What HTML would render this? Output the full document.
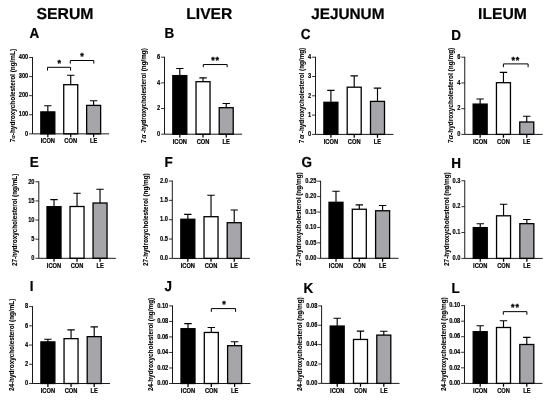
<!DOCTYPE html>
<html lang="en"><head><meta charset="utf-8"><title>Oxysterol levels</title>
<style>
html,body{margin:0;padding:0;background:#fff;}
body{width:550px;height:400px;overflow:hidden;}
svg{display:block;}
svg text{font-family:"Liberation Sans",Arial,sans-serif;font-weight:bold;}
svg text.s{stroke:#000;stroke-width:0.18px;}
svg text.t{stroke:#000;stroke-width:0.2px;text-rendering:geometricPrecision;}
</style></head><body>
<svg xmlns="http://www.w3.org/2000/svg" width="550" height="400" viewBox="0 0 550 400" font-weight="bold" fill="#000">
<rect width="550" height="400" fill="#fff"/>
<text class="t" x="65.0" y="18.6" text-anchor="middle" font-size="15.8">SERUM</text>
<text class="t" x="209.3" y="18.6" text-anchor="middle" font-size="15.7">LIVER</text>
<text class="t" x="347.8" y="18.6" text-anchor="middle" font-size="15.35">JEJUNUM</text>
<text class="t" x="502.5" y="18.6" text-anchor="middle" font-size="15.7">ILEUM</text>
<g id="pA">
<text class="t" transform="translate(29.50,38.10) scale(0.93,1)" font-size="14.5">A</text>
<text class="s" transform="translate(15.30,142.20) rotate(-90)" font-size="6.4" style="stroke-width:0.1px" textLength="93.25" lengthAdjust="spacingAndGlyphs">7<tspan font-size="5.6" font-style="italic" stroke-width="0.05">α</tspan>-hydroxycholesterol (ng/mL)</text>
<path d="M47.83 111.90V105.70M44.13 105.70H51.53" stroke="#000" stroke-width="1.15" fill="none"/>
<rect x="40.83" y="111.90" width="14.0" height="21.95" fill="#000" stroke="#000" stroke-width="1.3"/>
<path d="M47.83 133.85V137.25" stroke="#000" stroke-width="1.25"/>
<text class="s" transform="translate(47.83,143.45) scale(0.87,1)" text-anchor="middle" font-size="6.6" style="stroke-width:0.2px">ICON</text>
<path d="M70.73 84.70V75.25M67.03 75.25H74.43" stroke="#000" stroke-width="1.15" fill="none"/>
<rect x="63.73" y="84.70" width="14.0" height="49.15" fill="#fff" stroke="#000" stroke-width="1.3"/>
<path d="M70.73 133.85V137.25" stroke="#000" stroke-width="1.25"/>
<text class="s" transform="translate(70.73,143.45) scale(0.87,1)" text-anchor="middle" font-size="6.6" style="stroke-width:0.2px">CON</text>
<path d="M93.63 105.40V100.70M89.93 100.70H97.33" stroke="#000" stroke-width="1.15" fill="none"/>
<rect x="86.63" y="105.40" width="14.0" height="28.45" fill="#a6a6aa" stroke="#000" stroke-width="1.3"/>
<path d="M93.63 133.85V137.25" stroke="#000" stroke-width="1.25"/>
<text class="s" transform="translate(93.63,143.45) scale(0.87,1)" text-anchor="middle" font-size="6.6" style="stroke-width:0.2px">LE</text>
<path d="M32.50 57.10V133.85H109.10" stroke="#000" stroke-width="0.9" fill="none"/>
<path d="M29.10 133.85H32.50" stroke="#000" stroke-width="0.8"/>
<text class="s" transform="translate(28.20,135.55) scale(0.835,1)" text-anchor="end" font-size="6.8">0</text>
<path d="M29.10 114.76H32.50" stroke="#000" stroke-width="0.8"/>
<text class="s" transform="translate(28.20,116.46) scale(0.835,1)" text-anchor="end" font-size="6.8">100</text>
<path d="M29.10 95.67H32.50" stroke="#000" stroke-width="0.8"/>
<text class="s" transform="translate(28.20,97.38) scale(0.835,1)" text-anchor="end" font-size="6.8">200</text>
<path d="M29.10 76.59H32.50" stroke="#000" stroke-width="0.8"/>
<text class="s" transform="translate(28.20,78.29) scale(0.835,1)" text-anchor="end" font-size="6.8">300</text>
<path d="M29.10 57.50H32.50" stroke="#000" stroke-width="0.8"/>
<text class="s" transform="translate(28.20,59.20) scale(0.835,1)" text-anchor="end" font-size="6.8">400</text>
<path d="M47.5 70.6V67.3H70.6V70.6" stroke="#000" stroke-width="1" fill="none"/>
<text class="s" x="59.20" y="65.80" text-anchor="middle" font-size="9" letter-spacing="0" style="stroke-width:0.3px">*</text>
<path d="M70.3 63.6V60.5H93.8V63.6" stroke="#000" stroke-width="1" fill="none"/>
<text class="s" x="81.90" y="59.40" text-anchor="middle" font-size="9" letter-spacing="0" style="stroke-width:0.3px">*</text>
</g>
<g id="pB">
<text class="t" transform="translate(164.40,38.30) scale(0.93,1)" font-size="14.5">B</text>
<text class="s" transform="translate(145.80,143.00) rotate(-90)" font-size="6.4" style="stroke-width:0.1px" textLength="94.75" lengthAdjust="spacingAndGlyphs">7<tspan dx="0.8" font-size="7.2" font-style="italic" stroke-width="0.05">α</tspan><tspan dx="1.3">-hydroxycholesterol (ng/mg)</tspan></text>
<path d="M179.83 75.60V68.50M176.13 68.50H183.53" stroke="#000" stroke-width="1.15" fill="none"/>
<rect x="172.83" y="75.60" width="14.0" height="58.60" fill="#000" stroke="#000" stroke-width="1.3"/>
<path d="M179.83 134.20V137.60" stroke="#000" stroke-width="1.25"/>
<text class="s" transform="translate(179.83,143.80) scale(0.87,1)" text-anchor="middle" font-size="6.6" style="stroke-width:0.2px">ICON</text>
<path d="M203.03 81.70V77.80M199.33 77.80H206.73" stroke="#000" stroke-width="1.15" fill="none"/>
<rect x="196.03" y="81.70" width="14.0" height="52.50" fill="#fff" stroke="#000" stroke-width="1.3"/>
<path d="M203.03 134.20V137.60" stroke="#000" stroke-width="1.25"/>
<text class="s" transform="translate(203.03,143.80) scale(0.87,1)" text-anchor="middle" font-size="6.6" style="stroke-width:0.2px">CON</text>
<path d="M226.22 107.70V103.50M222.52 103.50H229.92" stroke="#000" stroke-width="1.15" fill="none"/>
<rect x="219.22" y="107.70" width="14.0" height="26.50" fill="#a6a6aa" stroke="#000" stroke-width="1.3"/>
<path d="M226.22 134.20V137.60" stroke="#000" stroke-width="1.25"/>
<text class="s" transform="translate(226.22,143.80) scale(0.87,1)" text-anchor="middle" font-size="6.6" style="stroke-width:0.2px">LE</text>
<path d="M164.50 56.80V134.20H242.10" stroke="#000" stroke-width="0.9" fill="none"/>
<path d="M161.10 134.20H164.50" stroke="#000" stroke-width="0.8"/>
<text class="s" transform="translate(160.20,135.90) scale(0.835,1)" text-anchor="end" font-size="6.8">0</text>
<path d="M161.10 108.53H164.50" stroke="#000" stroke-width="0.8"/>
<text class="s" transform="translate(160.20,110.23) scale(0.835,1)" text-anchor="end" font-size="6.8">2</text>
<path d="M161.10 82.87H164.50" stroke="#000" stroke-width="0.8"/>
<text class="s" transform="translate(160.20,84.57) scale(0.835,1)" text-anchor="end" font-size="6.8">4</text>
<path d="M161.10 57.20H164.50" stroke="#000" stroke-width="0.8"/>
<text class="s" transform="translate(160.20,58.90) scale(0.835,1)" text-anchor="end" font-size="6.8">6</text>
<path d="M203.3 67.2V64.55H227.2V67.2" stroke="#000" stroke-width="1" fill="none"/>
<text class="s" x="215.50" y="63.20" text-anchor="middle" font-size="9" letter-spacing="0.8" style="stroke-width:0.3px">**</text>
</g>
<g id="pC">
<text class="t" transform="translate(300.80,38.80) scale(0.93,1)" font-size="14.5">C</text>
<text class="s" transform="translate(304.30,143.20) rotate(-90)" font-size="6.4" style="stroke-width:0.1px" textLength="95.45" lengthAdjust="spacingAndGlyphs">7<tspan dx="0.8" font-size="7.2" font-style="italic" stroke-width="0.05">α</tspan><tspan dx="1.3">-hydroxycholesterol (ng/mg)</tspan></text>
<path d="M330.90 102.30V90.30M327.20 90.30H334.60" stroke="#000" stroke-width="1.15" fill="none"/>
<rect x="323.90" y="102.30" width="14.0" height="32.10" fill="#000" stroke="#000" stroke-width="1.3"/>
<path d="M330.90 134.40V137.80" stroke="#000" stroke-width="1.25"/>
<text class="s" transform="translate(330.90,144.00) scale(0.87,1)" text-anchor="middle" font-size="6.6" style="stroke-width:0.2px">ICON</text>
<path d="M354.20 87.20V75.80M350.50 75.80H357.90" stroke="#000" stroke-width="1.15" fill="none"/>
<rect x="347.20" y="87.20" width="14.0" height="47.20" fill="#fff" stroke="#000" stroke-width="1.3"/>
<path d="M354.20 134.40V137.80" stroke="#000" stroke-width="1.25"/>
<text class="s" transform="translate(354.20,144.00) scale(0.87,1)" text-anchor="middle" font-size="6.6" style="stroke-width:0.2px">CON</text>
<path d="M377.50 101.40V88.10M373.80 88.10H381.20" stroke="#000" stroke-width="1.15" fill="none"/>
<rect x="370.50" y="101.40" width="14.0" height="33.00" fill="#a6a6aa" stroke="#000" stroke-width="1.3"/>
<path d="M377.50 134.40V137.80" stroke="#000" stroke-width="1.25"/>
<text class="s" transform="translate(377.50,144.00) scale(0.87,1)" text-anchor="middle" font-size="6.6" style="stroke-width:0.2px">LE</text>
<path d="M315.50 56.80V134.40H393.45" stroke="#000" stroke-width="0.9" fill="none"/>
<path d="M312.10 134.40H315.50" stroke="#000" stroke-width="0.8"/>
<text class="s" transform="translate(311.20,136.10) scale(0.835,1)" text-anchor="end" font-size="6.8">0</text>
<path d="M312.10 115.10H315.50" stroke="#000" stroke-width="0.8"/>
<text class="s" transform="translate(311.20,116.80) scale(0.835,1)" text-anchor="end" font-size="6.8">1</text>
<path d="M312.10 95.80H315.50" stroke="#000" stroke-width="0.8"/>
<text class="s" transform="translate(311.20,97.50) scale(0.835,1)" text-anchor="end" font-size="6.8">2</text>
<path d="M312.10 76.50H315.50" stroke="#000" stroke-width="0.8"/>
<text class="s" transform="translate(311.20,78.20) scale(0.835,1)" text-anchor="end" font-size="6.8">3</text>
<path d="M312.10 57.20H315.50" stroke="#000" stroke-width="0.8"/>
<text class="s" transform="translate(311.20,58.90) scale(0.835,1)" text-anchor="end" font-size="6.8">4</text>
</g>
<g id="pD">
<text class="t" transform="translate(451.20,40.30) scale(0.93,1)" font-size="14.5">D</text>
<text class="s" transform="translate(453.30,143.00) rotate(-90)" font-size="6.4" style="stroke-width:0.1px" textLength="95.25" lengthAdjust="spacingAndGlyphs">7<tspan font-size="7.2" font-style="italic" stroke-width="0.05">α</tspan>-hydroxycholesterol (ng/mg)</text>
<path d="M480.15 104.10V99.00M476.45 99.00H483.85" stroke="#000" stroke-width="1.15" fill="none"/>
<rect x="473.15" y="104.10" width="14.0" height="30.30" fill="#000" stroke="#000" stroke-width="1.3"/>
<path d="M480.15 134.40V137.80" stroke="#000" stroke-width="1.25"/>
<text class="s" transform="translate(480.15,144.00) scale(0.87,1)" text-anchor="middle" font-size="6.6" style="stroke-width:0.2px">ICON</text>
<path d="M503.45 82.70V72.30M499.75 72.30H507.15" stroke="#000" stroke-width="1.15" fill="none"/>
<rect x="496.45" y="82.70" width="14.0" height="51.70" fill="#fff" stroke="#000" stroke-width="1.3"/>
<path d="M503.45 134.40V137.80" stroke="#000" stroke-width="1.25"/>
<text class="s" transform="translate(503.45,144.00) scale(0.87,1)" text-anchor="middle" font-size="6.6" style="stroke-width:0.2px">CON</text>
<path d="M526.75 122.00V116.25M523.05 116.25H530.45" stroke="#000" stroke-width="1.15" fill="none"/>
<rect x="519.75" y="122.00" width="14.0" height="12.40" fill="#a6a6aa" stroke="#000" stroke-width="1.3"/>
<path d="M526.75 134.40V137.80" stroke="#000" stroke-width="1.25"/>
<text class="s" transform="translate(526.75,144.00) scale(0.87,1)" text-anchor="middle" font-size="6.6" style="stroke-width:0.2px">LE</text>
<path d="M464.75 56.80V134.40H542.70" stroke="#000" stroke-width="0.9" fill="none"/>
<path d="M461.35 134.40H464.75" stroke="#000" stroke-width="0.8"/>
<text class="s" transform="translate(460.45,136.10) scale(0.835,1)" text-anchor="end" font-size="6.8">0</text>
<path d="M461.35 108.67H464.75" stroke="#000" stroke-width="0.8"/>
<text class="s" transform="translate(460.45,110.37) scale(0.835,1)" text-anchor="end" font-size="6.8">2</text>
<path d="M461.35 82.93H464.75" stroke="#000" stroke-width="0.8"/>
<text class="s" transform="translate(460.45,84.63) scale(0.835,1)" text-anchor="end" font-size="6.8">4</text>
<path d="M461.35 57.20H464.75" stroke="#000" stroke-width="0.8"/>
<text class="s" transform="translate(460.45,58.90) scale(0.835,1)" text-anchor="end" font-size="6.8">6</text>
<path d="M503.4 67.2V63.9H528.1V67.2" stroke="#000" stroke-width="1" fill="none"/>
<text class="s" x="515.70" y="62.50" text-anchor="middle" font-size="9" letter-spacing="0.8" style="stroke-width:0.3px">**</text>
</g>
<g id="pE">
<text class="t" transform="translate(29.80,166.50) scale(0.93,1)" font-size="14.5">E</text>
<text class="s" transform="translate(16.80,266.00) rotate(-90)" font-size="6.4" style="stroke-width:0.1px" textLength="92.25" lengthAdjust="spacingAndGlyphs">27-hydroxycholesterol (ng/mL)</text>
<path d="M54.01 206.70V199.60M50.31 199.60H57.71" stroke="#000" stroke-width="1.15" fill="none"/>
<rect x="47.01" y="206.70" width="14.0" height="51.60" fill="#000" stroke="#000" stroke-width="1.3"/>
<path d="M54.01 258.30V261.70" stroke="#000" stroke-width="1.25"/>
<text class="s" transform="translate(54.01,267.90) scale(0.87,1)" text-anchor="middle" font-size="6.6" style="stroke-width:0.2px">ICON</text>
<path d="M77.03 206.50V193.25M73.33 193.25H80.73" stroke="#000" stroke-width="1.15" fill="none"/>
<rect x="70.03" y="206.50" width="14.0" height="51.80" fill="#fff" stroke="#000" stroke-width="1.3"/>
<path d="M77.03 258.30V261.70" stroke="#000" stroke-width="1.25"/>
<text class="s" transform="translate(77.03,267.90) scale(0.87,1)" text-anchor="middle" font-size="6.6" style="stroke-width:0.2px">CON</text>
<path d="M100.04 203.00V189.25M96.34 189.25H103.74" stroke="#000" stroke-width="1.15" fill="none"/>
<rect x="93.04" y="203.00" width="14.0" height="55.30" fill="#a6a6aa" stroke="#000" stroke-width="1.3"/>
<path d="M100.04 258.30V261.70" stroke="#000" stroke-width="1.25"/>
<text class="s" transform="translate(100.04,267.90) scale(0.87,1)" text-anchor="middle" font-size="6.6" style="stroke-width:0.2px">LE</text>
<path d="M38.80 181.40V258.30H115.80" stroke="#000" stroke-width="0.9" fill="none"/>
<path d="M35.40 258.30H38.80" stroke="#000" stroke-width="0.8"/>
<text class="s" transform="translate(34.50,260.00) scale(0.835,1)" text-anchor="end" font-size="6.8">0</text>
<path d="M35.40 239.18H38.80" stroke="#000" stroke-width="0.8"/>
<text class="s" transform="translate(34.50,240.88) scale(0.835,1)" text-anchor="end" font-size="6.8">5</text>
<path d="M35.40 220.05H38.80" stroke="#000" stroke-width="0.8"/>
<text class="s" transform="translate(34.50,221.75) scale(0.835,1)" text-anchor="end" font-size="6.8">10</text>
<path d="M35.40 200.93H38.80" stroke="#000" stroke-width="0.8"/>
<text class="s" transform="translate(34.50,202.62) scale(0.835,1)" text-anchor="end" font-size="6.8">15</text>
<path d="M35.40 181.80H38.80" stroke="#000" stroke-width="0.8"/>
<text class="s" transform="translate(34.50,183.50) scale(0.835,1)" text-anchor="end" font-size="6.8">20</text>
</g>
<g id="pF">
<text class="t" transform="translate(164.60,166.90) scale(0.93,1)" font-size="14.5">F</text>
<text class="s" transform="translate(147.80,266.00) rotate(-90)" font-size="6.4" style="stroke-width:0.1px" textLength="92.75" lengthAdjust="spacingAndGlyphs">27-hydroxycholesterol (ng/mg)</text>
<path d="M187.83 219.25V214.30M184.13 214.30H191.53" stroke="#000" stroke-width="1.15" fill="none"/>
<rect x="180.83" y="219.25" width="14.0" height="39.15" fill="#000" stroke="#000" stroke-width="1.3"/>
<path d="M187.83 258.40V261.80" stroke="#000" stroke-width="1.25"/>
<text class="s" transform="translate(187.83,268.00) scale(0.87,1)" text-anchor="middle" font-size="6.6" style="stroke-width:0.2px">ICON</text>
<path d="M211.03 216.70V195.20M207.33 195.20H214.73" stroke="#000" stroke-width="1.15" fill="none"/>
<rect x="204.03" y="216.70" width="14.0" height="41.70" fill="#fff" stroke="#000" stroke-width="1.3"/>
<path d="M211.03 258.40V261.80" stroke="#000" stroke-width="1.25"/>
<text class="s" transform="translate(211.03,268.00) scale(0.87,1)" text-anchor="middle" font-size="6.6" style="stroke-width:0.2px">CON</text>
<path d="M234.22 222.70V210.00M230.52 210.00H237.92" stroke="#000" stroke-width="1.15" fill="none"/>
<rect x="227.22" y="222.70" width="14.0" height="35.70" fill="#a6a6aa" stroke="#000" stroke-width="1.3"/>
<path d="M234.22 258.40V261.80" stroke="#000" stroke-width="1.25"/>
<text class="s" transform="translate(234.22,268.00) scale(0.87,1)" text-anchor="middle" font-size="6.6" style="stroke-width:0.2px">LE</text>
<path d="M172.30 180.60V258.40H249.90" stroke="#000" stroke-width="0.9" fill="none"/>
<path d="M168.90 258.40H172.30" stroke="#000" stroke-width="0.8"/>
<text class="s" transform="translate(168.00,260.10) scale(0.835,1)" text-anchor="end" font-size="6.8">0.0</text>
<path d="M168.90 239.05H172.30" stroke="#000" stroke-width="0.8"/>
<text class="s" transform="translate(168.00,240.75) scale(0.835,1)" text-anchor="end" font-size="6.8">0.5</text>
<path d="M168.90 219.70H172.30" stroke="#000" stroke-width="0.8"/>
<text class="s" transform="translate(168.00,221.40) scale(0.835,1)" text-anchor="end" font-size="6.8">1.0</text>
<path d="M168.90 200.35H172.30" stroke="#000" stroke-width="0.8"/>
<text class="s" transform="translate(168.00,202.05) scale(0.835,1)" text-anchor="end" font-size="6.8">1.5</text>
<path d="M168.90 181.00H172.30" stroke="#000" stroke-width="0.8"/>
<text class="s" transform="translate(168.00,182.70) scale(0.835,1)" text-anchor="end" font-size="6.8">2.0</text>
</g>
<g id="pG">
<text class="t" transform="translate(301.60,166.70) scale(0.93,1)" font-size="14.5">G</text>
<text class="s" transform="translate(301.30,266.00) rotate(-90)" font-size="6.4" style="stroke-width:0.1px" textLength="93.75" lengthAdjust="spacingAndGlyphs">27-hydroxycholesterol (ng/mg)</text>
<path d="M336.00 202.30V191.25M332.30 191.25H339.70" stroke="#000" stroke-width="1.15" fill="none"/>
<rect x="329.00" y="202.30" width="14.0" height="56.00" fill="#000" stroke="#000" stroke-width="1.3"/>
<path d="M336.00 258.30V261.70" stroke="#000" stroke-width="1.25"/>
<text class="s" transform="translate(336.00,267.90) scale(0.87,1)" text-anchor="middle" font-size="6.6" style="stroke-width:0.2px">ICON</text>
<path d="M359.30 209.25V204.90M355.60 204.90H363.00" stroke="#000" stroke-width="1.15" fill="none"/>
<rect x="352.30" y="209.25" width="14.0" height="49.05" fill="#fff" stroke="#000" stroke-width="1.3"/>
<path d="M359.30 258.30V261.70" stroke="#000" stroke-width="1.25"/>
<text class="s" transform="translate(359.30,267.90) scale(0.87,1)" text-anchor="middle" font-size="6.6" style="stroke-width:0.2px">CON</text>
<path d="M382.60 210.75V205.50M378.90 205.50H386.30" stroke="#000" stroke-width="1.15" fill="none"/>
<rect x="375.60" y="210.75" width="14.0" height="47.55" fill="#a6a6aa" stroke="#000" stroke-width="1.3"/>
<path d="M382.60 258.30V261.70" stroke="#000" stroke-width="1.25"/>
<text class="s" transform="translate(382.60,267.90) scale(0.87,1)" text-anchor="middle" font-size="6.6" style="stroke-width:0.2px">LE</text>
<path d="M320.60 180.80V258.30H398.55" stroke="#000" stroke-width="0.9" fill="none"/>
<path d="M317.20 258.30H320.60" stroke="#000" stroke-width="0.8"/>
<text class="s" transform="translate(316.30,260.00) scale(0.835,1)" text-anchor="end" font-size="6.8">0.00</text>
<path d="M317.20 242.88H320.60" stroke="#000" stroke-width="0.8"/>
<text class="s" transform="translate(316.30,244.58) scale(0.835,1)" text-anchor="end" font-size="6.8">0.05</text>
<path d="M317.20 227.46H320.60" stroke="#000" stroke-width="0.8"/>
<text class="s" transform="translate(316.30,229.16) scale(0.835,1)" text-anchor="end" font-size="6.8">0.10</text>
<path d="M317.20 212.04H320.60" stroke="#000" stroke-width="0.8"/>
<text class="s" transform="translate(316.30,213.74) scale(0.835,1)" text-anchor="end" font-size="6.8">0.15</text>
<path d="M317.20 196.62H320.60" stroke="#000" stroke-width="0.8"/>
<text class="s" transform="translate(316.30,198.32) scale(0.835,1)" text-anchor="end" font-size="6.8">0.20</text>
<path d="M317.20 181.20H320.60" stroke="#000" stroke-width="0.8"/>
<text class="s" transform="translate(316.30,182.90) scale(0.835,1)" text-anchor="end" font-size="6.8">0.25</text>
</g>
<g id="pH">
<text class="t" transform="translate(451.30,167.80) scale(0.93,1)" font-size="14.5">H</text>
<text class="s" transform="translate(448.60,266.00) rotate(-90)" font-size="6.4" style="stroke-width:0.1px" textLength="93.75" lengthAdjust="spacingAndGlyphs">27-hydroxycholesterol (ng/mg)</text>
<path d="M480.25 227.60V223.70M476.55 223.70H483.95" stroke="#000" stroke-width="1.15" fill="none"/>
<rect x="473.25" y="227.60" width="14.0" height="30.80" fill="#000" stroke="#000" stroke-width="1.3"/>
<path d="M480.25 258.40V261.80" stroke="#000" stroke-width="1.25"/>
<text class="s" transform="translate(480.25,268.00) scale(0.87,1)" text-anchor="middle" font-size="6.6" style="stroke-width:0.2px">ICON</text>
<path d="M503.55 215.80V204.25M499.85 204.25H507.25" stroke="#000" stroke-width="1.15" fill="none"/>
<rect x="496.55" y="215.80" width="14.0" height="42.60" fill="#fff" stroke="#000" stroke-width="1.3"/>
<path d="M503.55 258.40V261.80" stroke="#000" stroke-width="1.25"/>
<text class="s" transform="translate(503.55,268.00) scale(0.87,1)" text-anchor="middle" font-size="6.6" style="stroke-width:0.2px">CON</text>
<path d="M526.85 223.65V219.50M523.15 219.50H530.55" stroke="#000" stroke-width="1.15" fill="none"/>
<rect x="519.85" y="223.65" width="14.0" height="34.75" fill="#a6a6aa" stroke="#000" stroke-width="1.3"/>
<path d="M526.85 258.40V261.80" stroke="#000" stroke-width="1.25"/>
<text class="s" transform="translate(526.85,268.00) scale(0.87,1)" text-anchor="middle" font-size="6.6" style="stroke-width:0.2px">LE</text>
<path d="M464.75 180.40V258.40H542.70" stroke="#000" stroke-width="0.9" fill="none"/>
<path d="M461.35 258.40H464.75" stroke="#000" stroke-width="0.8"/>
<text class="s" transform="translate(460.45,260.10) scale(0.835,1)" text-anchor="end" font-size="6.8">0.0</text>
<path d="M461.35 232.53H464.75" stroke="#000" stroke-width="0.8"/>
<text class="s" transform="translate(460.45,234.23) scale(0.835,1)" text-anchor="end" font-size="6.8">0.1</text>
<path d="M461.35 206.67H464.75" stroke="#000" stroke-width="0.8"/>
<text class="s" transform="translate(460.45,208.37) scale(0.835,1)" text-anchor="end" font-size="6.8">0.2</text>
<path d="M461.35 180.80H464.75" stroke="#000" stroke-width="0.8"/>
<text class="s" transform="translate(460.45,182.50) scale(0.835,1)" text-anchor="end" font-size="6.8">0.3</text>
</g>
<g id="pI">
<text class="t" transform="translate(29.80,290.80) scale(0.93,1)" font-size="14.5">I</text>
<text class="s" transform="translate(13.80,391.00) rotate(-90)" font-size="6.4" style="stroke-width:0.1px" textLength="92.25" lengthAdjust="spacingAndGlyphs">24-hydroxycholesterol (ng/mL)</text>
<path d="M47.90 341.90V339.25M44.20 339.25H51.60" stroke="#000" stroke-width="1.15" fill="none"/>
<rect x="40.90" y="341.90" width="14.0" height="41.60" fill="#000" stroke="#000" stroke-width="1.3"/>
<path d="M47.90 383.50V386.90" stroke="#000" stroke-width="1.25"/>
<text class="s" transform="translate(47.90,393.10) scale(0.87,1)" text-anchor="middle" font-size="6.6" style="stroke-width:0.2px">ICON</text>
<path d="M71.05 338.65V329.80M67.35 329.80H74.75" stroke="#000" stroke-width="1.15" fill="none"/>
<rect x="64.05" y="338.65" width="14.0" height="44.85" fill="#fff" stroke="#000" stroke-width="1.3"/>
<path d="M71.05 383.50V386.90" stroke="#000" stroke-width="1.25"/>
<text class="s" transform="translate(71.05,393.10) scale(0.87,1)" text-anchor="middle" font-size="6.6" style="stroke-width:0.2px">CON</text>
<path d="M94.20 336.65V326.80M90.50 326.80H97.90" stroke="#000" stroke-width="1.15" fill="none"/>
<rect x="87.20" y="336.65" width="14.0" height="46.85" fill="#a6a6aa" stroke="#000" stroke-width="1.3"/>
<path d="M94.20 383.50V386.90" stroke="#000" stroke-width="1.25"/>
<text class="s" transform="translate(94.20,393.10) scale(0.87,1)" text-anchor="middle" font-size="6.6" style="stroke-width:0.2px">LE</text>
<path d="M32.50 306.20V383.50H109.95" stroke="#000" stroke-width="0.9" fill="none"/>
<path d="M29.10 383.50H32.50" stroke="#000" stroke-width="0.8"/>
<text class="s" transform="translate(28.20,385.20) scale(0.835,1)" text-anchor="end" font-size="6.8">0</text>
<path d="M29.10 364.27H32.50" stroke="#000" stroke-width="0.8"/>
<text class="s" transform="translate(28.20,365.97) scale(0.835,1)" text-anchor="end" font-size="6.8">2</text>
<path d="M29.10 345.05H32.50" stroke="#000" stroke-width="0.8"/>
<text class="s" transform="translate(28.20,346.75) scale(0.835,1)" text-anchor="end" font-size="6.8">4</text>
<path d="M29.10 325.83H32.50" stroke="#000" stroke-width="0.8"/>
<text class="s" transform="translate(28.20,327.53) scale(0.835,1)" text-anchor="end" font-size="6.8">6</text>
<path d="M29.10 306.60H32.50" stroke="#000" stroke-width="0.8"/>
<text class="s" transform="translate(28.20,308.30) scale(0.835,1)" text-anchor="end" font-size="6.8">8</text>
</g>
<g id="pJ">
<text class="t" transform="translate(164.50,291.40) scale(0.93,1)" font-size="14.5">J</text>
<text class="s" transform="translate(152.80,391.00) rotate(-90)" font-size="6.4" style="stroke-width:0.1px" textLength="93.25" lengthAdjust="spacingAndGlyphs">24-hydroxycholesterol (ng/mg)</text>
<path d="M188.00 328.70V323.55M184.30 323.55H191.70" stroke="#000" stroke-width="1.15" fill="none"/>
<rect x="181.00" y="328.70" width="14.0" height="54.80" fill="#000" stroke="#000" stroke-width="1.3"/>
<path d="M188.00 383.50V386.90" stroke="#000" stroke-width="1.25"/>
<text class="s" transform="translate(188.00,393.10) scale(0.87,1)" text-anchor="middle" font-size="6.6" style="stroke-width:0.2px">ICON</text>
<path d="M211.30 332.45V327.50M207.60 327.50H215.00" stroke="#000" stroke-width="1.15" fill="none"/>
<rect x="204.30" y="332.45" width="14.0" height="51.05" fill="#fff" stroke="#000" stroke-width="1.3"/>
<path d="M211.30 383.50V386.90" stroke="#000" stroke-width="1.25"/>
<text class="s" transform="translate(211.30,393.10) scale(0.87,1)" text-anchor="middle" font-size="6.6" style="stroke-width:0.2px">CON</text>
<path d="M234.60 345.70V341.70M230.90 341.70H238.30" stroke="#000" stroke-width="1.15" fill="none"/>
<rect x="227.60" y="345.70" width="14.0" height="37.80" fill="#a6a6aa" stroke="#000" stroke-width="1.3"/>
<path d="M234.60 383.50V386.90" stroke="#000" stroke-width="1.25"/>
<text class="s" transform="translate(234.60,393.10) scale(0.87,1)" text-anchor="middle" font-size="6.6" style="stroke-width:0.2px">LE</text>
<path d="M172.50 305.50V383.50H250.45" stroke="#000" stroke-width="0.9" fill="none"/>
<path d="M169.10 383.50H172.50" stroke="#000" stroke-width="0.8"/>
<text class="s" transform="translate(168.20,385.20) scale(0.835,1)" text-anchor="end" font-size="6.8">0.00</text>
<path d="M169.10 367.98H172.50" stroke="#000" stroke-width="0.8"/>
<text class="s" transform="translate(168.20,369.68) scale(0.835,1)" text-anchor="end" font-size="6.8">0.02</text>
<path d="M169.10 352.46H172.50" stroke="#000" stroke-width="0.8"/>
<text class="s" transform="translate(168.20,354.16) scale(0.835,1)" text-anchor="end" font-size="6.8">0.04</text>
<path d="M169.10 336.94H172.50" stroke="#000" stroke-width="0.8"/>
<text class="s" transform="translate(168.20,338.64) scale(0.835,1)" text-anchor="end" font-size="6.8">0.06</text>
<path d="M169.10 321.42H172.50" stroke="#000" stroke-width="0.8"/>
<text class="s" transform="translate(168.20,323.12) scale(0.835,1)" text-anchor="end" font-size="6.8">0.08</text>
<path d="M169.10 305.90H172.50" stroke="#000" stroke-width="0.8"/>
<text class="s" transform="translate(168.20,307.60) scale(0.835,1)" text-anchor="end" font-size="6.8">0.10</text>
<path d="M211.3 311.9V308.6H235.6V311.9" stroke="#000" stroke-width="1" fill="none"/>
<text class="s" x="224.00" y="307.00" text-anchor="middle" font-size="9" letter-spacing="0" style="stroke-width:0.3px">*</text>
</g>
<g id="pK">
<text class="t" transform="translate(303.40,292.80) scale(0.93,1)" font-size="14.5">K</text>
<text class="s" transform="translate(302.20,391.00) rotate(-90)" font-size="6.4" style="stroke-width:0.1px" textLength="93.75" lengthAdjust="spacingAndGlyphs">24-hydroxycholesterol (ng/mg)</text>
<path d="M337.20 326.05V318.25M333.50 318.25H340.90" stroke="#000" stroke-width="1.15" fill="none"/>
<rect x="330.20" y="326.05" width="14.0" height="57.35" fill="#000" stroke="#000" stroke-width="1.3"/>
<path d="M337.20 383.40V386.80" stroke="#000" stroke-width="1.25"/>
<text class="s" transform="translate(337.20,393.00) scale(0.87,1)" text-anchor="middle" font-size="6.6" style="stroke-width:0.2px">ICON</text>
<path d="M360.50 339.45V331.05M356.80 331.05H364.20" stroke="#000" stroke-width="1.15" fill="none"/>
<rect x="353.50" y="339.45" width="14.0" height="43.95" fill="#fff" stroke="#000" stroke-width="1.3"/>
<path d="M360.50 383.40V386.80" stroke="#000" stroke-width="1.25"/>
<text class="s" transform="translate(360.50,393.00) scale(0.87,1)" text-anchor="middle" font-size="6.6" style="stroke-width:0.2px">CON</text>
<path d="M383.80 335.10V331.25M380.10 331.25H387.50" stroke="#000" stroke-width="1.15" fill="none"/>
<rect x="376.80" y="335.10" width="14.0" height="48.30" fill="#a6a6aa" stroke="#000" stroke-width="1.3"/>
<path d="M383.80 383.40V386.80" stroke="#000" stroke-width="1.25"/>
<text class="s" transform="translate(383.80,393.00) scale(0.87,1)" text-anchor="middle" font-size="6.6" style="stroke-width:0.2px">LE</text>
<path d="M321.60 305.50V383.40H399.55" stroke="#000" stroke-width="0.9" fill="none"/>
<path d="M318.20 383.40H321.60" stroke="#000" stroke-width="0.8"/>
<text class="s" transform="translate(317.30,385.10) scale(0.835,1)" text-anchor="end" font-size="6.8">0.00</text>
<path d="M318.20 364.02H321.60" stroke="#000" stroke-width="0.8"/>
<text class="s" transform="translate(317.30,365.72) scale(0.835,1)" text-anchor="end" font-size="6.8">0.02</text>
<path d="M318.20 344.65H321.60" stroke="#000" stroke-width="0.8"/>
<text class="s" transform="translate(317.30,346.35) scale(0.835,1)" text-anchor="end" font-size="6.8">0.04</text>
<path d="M318.20 325.27H321.60" stroke="#000" stroke-width="0.8"/>
<text class="s" transform="translate(317.30,326.97) scale(0.835,1)" text-anchor="end" font-size="6.8">0.06</text>
<path d="M318.20 305.90H321.60" stroke="#000" stroke-width="0.8"/>
<text class="s" transform="translate(317.30,307.60) scale(0.835,1)" text-anchor="end" font-size="6.8">0.08</text>
</g>
<g id="pL">
<text class="t" transform="translate(451.50,293.10) scale(0.93,1)" font-size="14.5">L</text>
<text class="s" transform="translate(445.50,391.00) rotate(-90)" font-size="6.4" style="stroke-width:0.1px" textLength="93.75" lengthAdjust="spacingAndGlyphs">24-hydroxycholesterol (ng/mg)</text>
<path d="M480.20 331.70V325.75M476.50 325.75H483.90" stroke="#000" stroke-width="1.15" fill="none"/>
<rect x="473.20" y="331.70" width="14.0" height="51.70" fill="#000" stroke="#000" stroke-width="1.3"/>
<path d="M480.20 383.40V386.80" stroke="#000" stroke-width="1.25"/>
<text class="s" transform="translate(480.20,393.00) scale(0.87,1)" text-anchor="middle" font-size="6.6" style="stroke-width:0.2px">ICON</text>
<path d="M503.50 327.50V320.75M499.80 320.75H507.20" stroke="#000" stroke-width="1.15" fill="none"/>
<rect x="496.50" y="327.50" width="14.0" height="55.90" fill="#fff" stroke="#000" stroke-width="1.3"/>
<path d="M503.50 383.40V386.80" stroke="#000" stroke-width="1.25"/>
<text class="s" transform="translate(503.50,393.00) scale(0.87,1)" text-anchor="middle" font-size="6.6" style="stroke-width:0.2px">CON</text>
<path d="M526.80 344.50V337.40M523.10 337.40H530.50" stroke="#000" stroke-width="1.15" fill="none"/>
<rect x="519.80" y="344.50" width="14.0" height="38.90" fill="#a6a6aa" stroke="#000" stroke-width="1.3"/>
<path d="M526.80 383.40V386.80" stroke="#000" stroke-width="1.25"/>
<text class="s" transform="translate(526.80,393.00) scale(0.87,1)" text-anchor="middle" font-size="6.6" style="stroke-width:0.2px">LE</text>
<path d="M464.50 305.20V383.40H542.45" stroke="#000" stroke-width="0.9" fill="none"/>
<path d="M461.10 383.40H464.50" stroke="#000" stroke-width="0.8"/>
<text class="s" transform="translate(460.20,385.10) scale(0.835,1)" text-anchor="end" font-size="6.8">0.00</text>
<path d="M461.10 367.84H464.50" stroke="#000" stroke-width="0.8"/>
<text class="s" transform="translate(460.20,369.54) scale(0.835,1)" text-anchor="end" font-size="6.8">0.02</text>
<path d="M461.10 352.28H464.50" stroke="#000" stroke-width="0.8"/>
<text class="s" transform="translate(460.20,353.98) scale(0.835,1)" text-anchor="end" font-size="6.8">0.04</text>
<path d="M461.10 336.72H464.50" stroke="#000" stroke-width="0.8"/>
<text class="s" transform="translate(460.20,338.42) scale(0.835,1)" text-anchor="end" font-size="6.8">0.06</text>
<path d="M461.10 321.16H464.50" stroke="#000" stroke-width="0.8"/>
<text class="s" transform="translate(460.20,322.86) scale(0.835,1)" text-anchor="end" font-size="6.8">0.08</text>
<path d="M461.10 305.60H464.50" stroke="#000" stroke-width="0.8"/>
<text class="s" transform="translate(460.20,307.30) scale(0.835,1)" text-anchor="end" font-size="6.8">0.10</text>
<path d="M503.3 314.7V311.65H526.9V314.7" stroke="#000" stroke-width="1" fill="none"/>
<text class="s" x="515.40" y="309.70" text-anchor="middle" font-size="9" letter-spacing="0.8" style="stroke-width:0.3px">**</text>
</g>
</svg>
</body></html>
